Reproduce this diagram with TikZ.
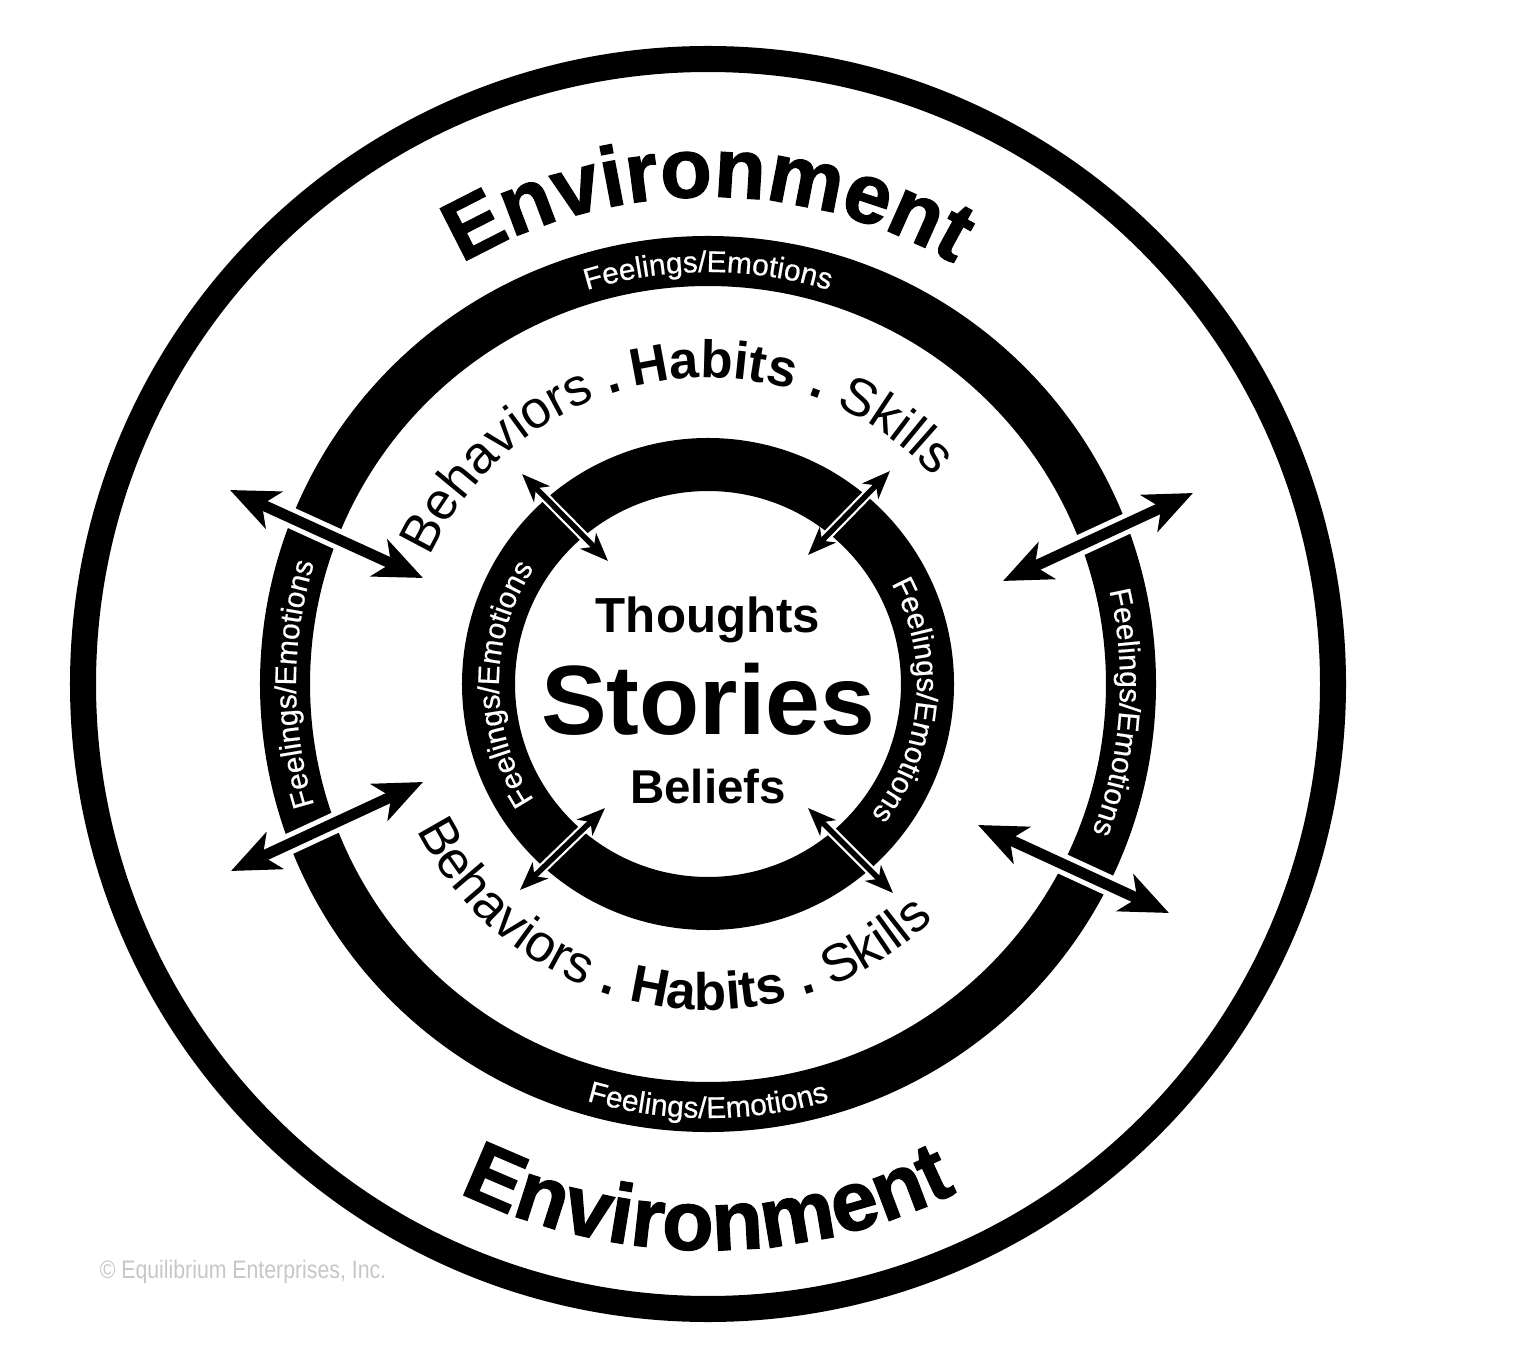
\documentclass[tikz,border=0pt]{standalone}
\usepackage{fontspec}
\setmainfont{Liberation Sans}
\newfontfamily\heavyfont{Liberation Sans Bold}[FakeBold=1.5]
\newfontfamily\medfont{Liberation Sans}[FakeBold=0.6]
\usetikzlibrary{decorations.text,arrows.meta,calc}
\newcommand\fEnv{\heavyfont\fontsize{24}{29}\selectfont}
\newcommand\fFeel{\medfont\fontsize{8.5}{10}\selectfont}
\newcommand\fBeh{\fontsize{15}{18}\selectfont}
\newcommand\fHab{\bfseries\fontsize{15}{18}\selectfont}
% #1 radius, #2 start angle, #3 end angle, #4 align, #5 colour, #6 format, #7 text
\newcommand\arctext[7]{%
  \path[decorate,decoration={text along path,text align=#4,text color=#5,
    text={|#6|#7}}]
    ($(C)+(#2:#1)$) arc[start angle=#2,end angle=#3,radius=#1];}
\tikzset{
  bigarrow/.style={line width=0.11cm,{Stealth[length=0.48cm,width=0.40cm,inset=0.13cm]}-{Stealth[length=0.48cm,width=0.40cm,inset=0.13cm]}},
  bighalo/.style={white,line width=0.21cm,shorten <=0.42cm,shorten >=0.42cm},
  smallarrow/.style={line width=0.055cm,{Stealth[length=0.28cm,width=0.22cm,inset=0.08cm]}-{Stealth[length=0.28cm,width=0.22cm,inset=0.08cm]}},
  smallhalo/.style={white,line width=0.10cm,shorten <=0.24cm,shorten >=0.24cm},
  centretext/.style={font=\bfseries,anchor=base,inner sep=0pt}
}
\begin{document}
\begin{tikzpicture}[x=0.01cm,y=0.01cm]
\fill[white] (0,0) rectangle (1536,-1349);
\useasboundingbox (0,0) rectangle (1536,-1349);
\coordinate (C) at (708,-684);
% rings
\draw[line width=0.26cm] (C) circle[radius=625];
\draw[line width=0.50cm] (C) circle[radius=423];
\draw[line width=0.53cm] (C) circle[radius=219.5];
% Environment
\arctext{487}{150}{30}{center}{black}{\fEnv}{Environment}
\arctext{566}{210}{330}{center}{black}{\fEnv}{Environment}
% Feelings/Emotions on middle ring
\arctext{412}{135}{45}{center}{white}{\fFeel}{Feelings/Emotions}
\arctext{434}{225}{315}{center}{white}{\fFeel}{Feelings/Emotions}
\arctext{412}{230}{130}{center}{white}{\fFeel}{Feelings/Emotions}
\arctext{412}{50}{-58}{center}{white}{\fFeel}{Feelings/Emotions}
% Feelings/Emotions on inner ring
\arctext{209}{250}{110}{center}{white}{\fFeel}{Feelings/Emotions}
\arctext{209}{65}{-75}{center}{white}{\fFeel}{Feelings/Emotions}
% Behaviors . Habits . Skills (top)
\arctext{306}{200}{106}{right}{black}{\fBeh}{Behaviors |\fHab|.}
\arctext{306}{139}{39}{center}{black}{\fHab}{Habits}
\arctext{306}{71}{-30}{left}{black}{\fHab}{.|\fBeh| Skills}
% Behaviors . Habits . Skills (bottom)
\arctext{326}{160}{253}{right}{black}{\fBeh}{Behaviors |\fHab|.}
\arctext{326}{220}{320}{center}{black}{\fHab}{Habits}
\arctext{326}{287}{380}{left}{black}{\fHab}{.|\fBeh| Skills}
% centre
\node[centretext,font=\bfseries\fontsize{14}{16}\selectfont] (thoughts) at (708,-633) {Thoughts};
\node[centretext,font=\bfseries\fontsize{28}{32}\selectfont] (stories) at (708,-735) {Stories};
\node[centretext,font=\bfseries\fontsize{13.5}{16}\selectfont] (beliefs) at (708,-803) {Beliefs};
% arrow end points
\coordinate (o1a) at (230,-490); \coordinate (o1b) at (423,-578);
\coordinate (o2a) at (423,-782); \coordinate (o2b) at (231,-871);
\coordinate (o3a) at (1003,-581); \coordinate (o3b) at (1193,-493);
\coordinate (o4a) at (978,-825); \coordinate (o4b) at (1169,-913);
\coordinate (i1a) at (522,-474); \coordinate (i1b) at (608,-561);
\coordinate (i2a) at (890,-471); \coordinate (i2b) at (808,-555);
\coordinate (i3a) at (605,-808); \coordinate (i3b) at (520,-890);
\coordinate (i4a) at (808,-808); \coordinate (i4b) at (893,-893);
\foreach \n in {1,2,3,4}{
  \draw[bighalo] (o\n a) -- (o\n b);
  \draw[bigarrow] (o\n a) -- (o\n b);
  \draw[smallhalo] (i\n a) -- (i\n b);
  \draw[smallarrow] (i\n a) -- (i\n b);
}
% copyright
\node[text=black!22,font=\fontsize{7.2}{8}\selectfont,xscale=0.84] (copy) at (243,-1272) {© Equilibrium Enterprises, Inc.};
\end{tikzpicture}
\end{document}
